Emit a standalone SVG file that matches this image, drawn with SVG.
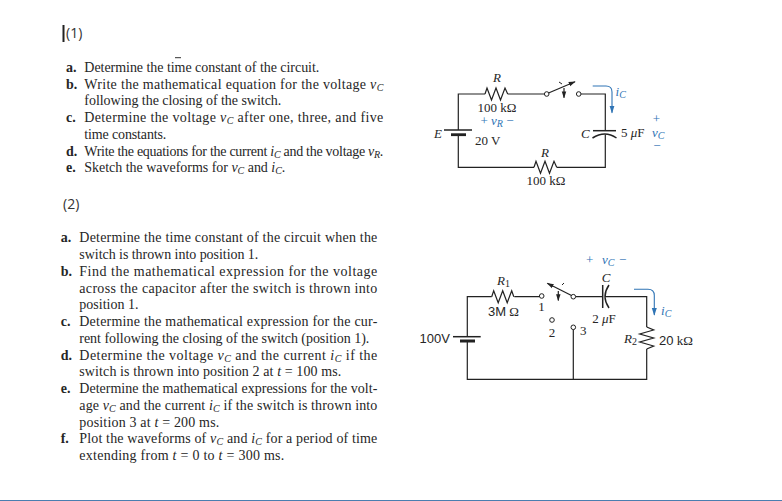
<svg xmlns="http://www.w3.org/2000/svg" width="782" height="501" viewBox="0 0 782 501">
<style>
text{font-family:"Liberation Serif","Times New Roman",serif;fill:#262626}
.b{font-size:14px}
.s{font-family:"Open Sans","Noto Sans",sans-serif;font-size:14px;fill:#333}
.n{font-family:"Liberation Sans",Arial,sans-serif;font-size:13px}
.c{font-size:13px}
.bl{fill:#2f74b5}
.sub{font-size:10px}
.i{font-style:italic}
.w{fill:none;stroke:#222;stroke-width:1.2}
.p{fill:#222}
.t{fill:#fff;stroke:#222;stroke-width:1}
.a{fill:none;stroke:#2f74b5;stroke-width:1.1}
</style>
<defs>
<marker id="ah" viewBox="0 0 10 10" refX="9" refY="5" markerWidth="8" markerHeight="8" markerUnits="userSpaceOnUse" orient="auto"><path d="M0 1.800L10 5L0 8.200Z" fill="#2f74b5"/></marker>
<marker id="ak" viewBox="0 0 10 10" refX="9" refY="5" markerWidth="7" markerHeight="7" markerUnits="userSpaceOnUse" orient="auto"><path d="M0 1.800L10 5L0 8.200Z" fill="#222"/></marker>
</defs>
<rect width="782" height="501" fill="#fff"/>
<rect x="0" y="500" width="782" height="1" fill="#4a7eb0"/>
<g id="problem-1-text">
<rect x="62.500" y="25" width="2" height="17" fill="#222"/>
<text class="s" x="66" y="38">(1)</text>
<path d="M175 57.700h6" stroke="#333" stroke-width="1"/>
<text class="b" x="66" y="71.700" font-weight="bold">a.</text><text class="b" x="84.300" y="71.700" textLength="235">Determine the time constant of the circuit.</text>
<text class="b" x="66" y="88.500" font-weight="bold">b.</text><text class="b" x="84.300" y="88.500" textLength="299">Write the mathematical equation for the voltage <tspan class="i">v</tspan><tspan class="sub i" dy="2">C</tspan></text>
<text class="b" x="84.300" y="105.200" textLength="197">following the closing of the switch.</text>
<text class="b" x="66" y="122" font-weight="bold">c.</text><text class="b" x="84.300" y="122" textLength="299">Determine the voltage <tspan class="i">v</tspan><tspan class="sub i" dy="2">C</tspan><tspan dy="-2"> after one, three, and five</tspan></text>
<text class="b" x="84.300" y="138.800" textLength="82">time constants.</text>
<text class="b" x="66" y="155.500" font-weight="bold">d.</text><text class="b" x="84.300" y="155.500" textLength="299">Write the equations for the current <tspan class="i">i</tspan><tspan class="sub i" dy="2">C</tspan><tspan dy="-2"> and the voltage </tspan><tspan class="i">v</tspan><tspan class="sub i" dy="2">R</tspan><tspan dy="-2">.</tspan></text>
<text class="b" x="66" y="172.300" font-weight="bold">e.</text><text class="b" x="84.300" y="172.300" textLength="201">Sketch the waveforms for <tspan class="i">v</tspan><tspan class="sub i" dy="2">C</tspan><tspan dy="-2"> and </tspan><tspan class="i">i</tspan><tspan class="sub i" dy="2">C</tspan><tspan dy="-2">.</tspan></text>
<text class="s" x="63" y="209">(2)</text>
</g>
<g id="problem-2-text">
<text class="b" x="60.700" y="242.300" font-weight="bold">a.</text><text class="b" x="79.300" y="242.300" textLength="298">Determine the time constant of the circuit when the</text>
<text class="b" x="79.300" y="259" textLength="179">switch is thrown into position 1.</text>
<text class="b" x="60.700" y="275.800" font-weight="bold">b.</text><text class="b" x="79.300" y="275.800" textLength="298">Find the mathematical expression for the voltage</text>
<text class="b" x="79.300" y="292.500" textLength="298">across the capacitor after the switch is thrown into</text>
<text class="b" x="79.300" y="309.300">position 1.</text>
<text class="b" x="60.700" y="326" font-weight="bold">c.</text><text class="b" x="79.300" y="326" textLength="298">Determine the mathematical expression for the cur-</text>
<text class="b" x="79.300" y="342.800" textLength="290">rent following the closing of the switch (position 1).</text>
<text class="b" x="60.700" y="359.500" font-weight="bold">d.</text><text class="b" x="79.300" y="359.500" textLength="298">Determine the voltage <tspan class="i">v</tspan><tspan class="sub i" dy="2">C</tspan><tspan dy="-2"> and the current </tspan><tspan class="i">i</tspan><tspan class="sub i" dy="2">C</tspan><tspan dy="-2"> if the</tspan></text>
<text class="b" x="79.300" y="376.300" textLength="262">switch is thrown into position 2 at <tspan class="i">t</tspan> = 100 ms.</text>
<text class="b" x="60.700" y="393" font-weight="bold">e.</text><text class="b" x="79.300" y="393" textLength="298">Determine the mathematical expressions for the volt-</text>
<text class="b" x="79.300" y="409.800" textLength="298">age <tspan class="i">v</tspan><tspan class="sub i" dy="2">C</tspan><tspan dy="-2"> and the current </tspan><tspan class="i">i</tspan><tspan class="sub i" dy="2">C</tspan><tspan dy="-2"> if the switch is thrown into</tspan></text>
<text class="b" x="79.300" y="426.500" textLength="140">position 3 at <tspan class="i">t</tspan> = 200 ms.</text>
<text class="b" x="60.700" y="443.300" font-weight="bold">f.</text><text class="b" x="79.300" y="443.300" textLength="298">Plot the waveforms of <tspan class="i">v</tspan><tspan class="sub i" dy="2">C</tspan><tspan dy="-2"> and </tspan><tspan class="i">i</tspan><tspan class="sub i" dy="2">C</tspan><tspan dy="-2"> for a period of time</tspan></text>
<text class="b" x="79.300" y="460" textLength="205">extending from <tspan class="i">t</tspan> = 0 to <tspan class="i">t</tspan> = 300 ms.</text>
</g>
<g id="connectors">
<path class="w" d="M458.300 130V94H485M507.700 94H545M580.700 94H605.300V131M605.300 134.500V167.300H556.700M534 167.300H458.300V135"/>
<path class="w" d="M485 94l2-6 4.500 12 4.500-12 4.500 12 4.500-12 2.700 6M534 167.300l2-6 4.500 12 4.500-12 4.500 12 4.500-12 2.700 6"/>
<path class="a" d="M592.700 86H606Q612 86 612 92V112.700" marker-end="url(#ah)"/>
<path class="w" d="M467.300 336V296.700H491.700M514.300 296.700H539.500M575.500 296.700H602M605 296.700H646.700V327M646.700 349V379.300H467.300V342M573.300 329.500V379.300"/>
<path class="w" d="M491.700 296.700l2-6 4.500 12 4.500-12 4.500 12 4.500-12 2.100 6"/>
<path class="w" d="M646.700 327l7 3-14 4 14 4-14 4 14 4-7 3"/>
<path class="a" d="M634 289.300H648Q654.300 289.300 654.300 295.500V315" marker-end="url(#ah)"/>
</g>
<g id="battery-1"><path d="M444 130H472" stroke="#222" stroke-width="1.500"/><rect class="p" x="451" y="133.300" width="15" height="2.800"/><text class="c i" x="434" y="138">E</text><text class="c" x="475" y="145">20 V</text></g>
<g id="resistor-r-top"><text class="c i" x="497" y="82" text-anchor="middle">R</text><text class="c" x="497" y="112" text-anchor="middle">100 kΩ</text><text class="c bl" x="497" y="125" text-anchor="middle">+ <tspan class="i">v</tspan><tspan class="sub i" dy="2">R</tspan><tspan dy="-2"> −</tspan></text></g>
<g id="resistor-r-bottom"><text class="c i" x="545" y="157" text-anchor="middle">R</text><text class="c" x="546" y="185" text-anchor="middle">100 kΩ</text></g>
<g id="switch-1">
<circle class="t" cx="546.700" cy="94" r="2.300"/><circle class="t" cx="578.700" cy="94" r="2.300"/>
<path class="w" d="M548.500 93L575 81.700" marker-end="url(#ak)"/>
<path d="M559 82l3 2" stroke="#222" fill="none"/>
<path class="w" d="M564 88V97.700" marker-end="url(#ak)"/>
</g>
<g id="capacitor-1"><path d="M593 130.700H616" stroke="#222" stroke-width="1.500"/><path d="M592.500 138Q605 130 616.500 138" fill="none" stroke="#222" stroke-width="1.500"/><text class="c i" x="581" y="138">C</text><text class="c" x="621" y="137">5 <tspan class="i">μ</tspan>F</text></g>
<g id="labels-1"><text class="c bl i" x="615.500" y="96">i<tspan class="sub" dy="2">C</tspan></text><text class="c bl" x="656.500" y="123" text-anchor="middle">+</text><text class="c bl i" x="652" y="136.500">v<tspan class="sub" dy="2">C</tspan></text><text class="c bl" x="657" y="150" text-anchor="middle">−</text></g>
<g id="battery-2"><path d="M453 336.700H480.700" stroke="#222" stroke-width="1.500"/><rect class="p" x="460" y="339.500" width="15" height="3"/><text class="n" x="419.500" y="343">100V</text></g>
<g id="resistor-r1"><text class="c i" x="497" y="285">R<tspan class="sub" dy="2" style="font-style:normal">1</tspan></text><text class="c" x="488" y="315.500"><tspan class="n">3M</tspan> Ω</text></g>
<g id="resistor-r2"><text class="c i" x="624" y="343">R<tspan class="sub" dy="2" style="font-style:normal">2</tspan></text><text class="c" x="659" y="345"><tspan class="n">20</tspan> kΩ</text></g>
<g id="switch-2">
<circle class="t" cx="541.700" cy="296" r="2.300"/><circle class="t" cx="573.300" cy="296.700" r="2.300"/><circle class="t" cx="552" cy="320" r="2.300"/><circle class="t" cx="573.300" cy="327.300" r="2.300"/>
<path class="w" d="M571.500 295.500L547.300 283.300" marker-end="url(#ak)"/>
<path d="M562 285l2-2" stroke="#222" fill="none"/>
<path class="w" d="M558.300 291V300.500" marker-end="url(#ak)"/>
<text class="c" x="541.500" y="311" text-anchor="middle">1</text><text class="c" x="552" y="337" text-anchor="middle">2</text><text class="c" x="580" y="335">3</text>
</g>
<g id="capacitor-2"><path d="M602.700 285V308" stroke="#222" stroke-width="1.500"/><path d="M609 285Q601 296.500 609 308" fill="none" stroke="#222" stroke-width="1.500"/><text class="c i" x="606" y="282" text-anchor="middle">C</text><text class="c" x="604" y="323" text-anchor="middle">2 <tspan class="i">μ</tspan>F</text></g>
<g id="labels-2"><text class="c bl" x="586" y="264">+</text><text class="c bl i" x="602" y="264">v<tspan class="sub" dy="2">C</tspan></text><text class="c bl" x="619" y="264">−</text><text class="c bl i" x="661" y="315">i<tspan class="sub" dy="2">C</tspan></text></g>
</svg>
